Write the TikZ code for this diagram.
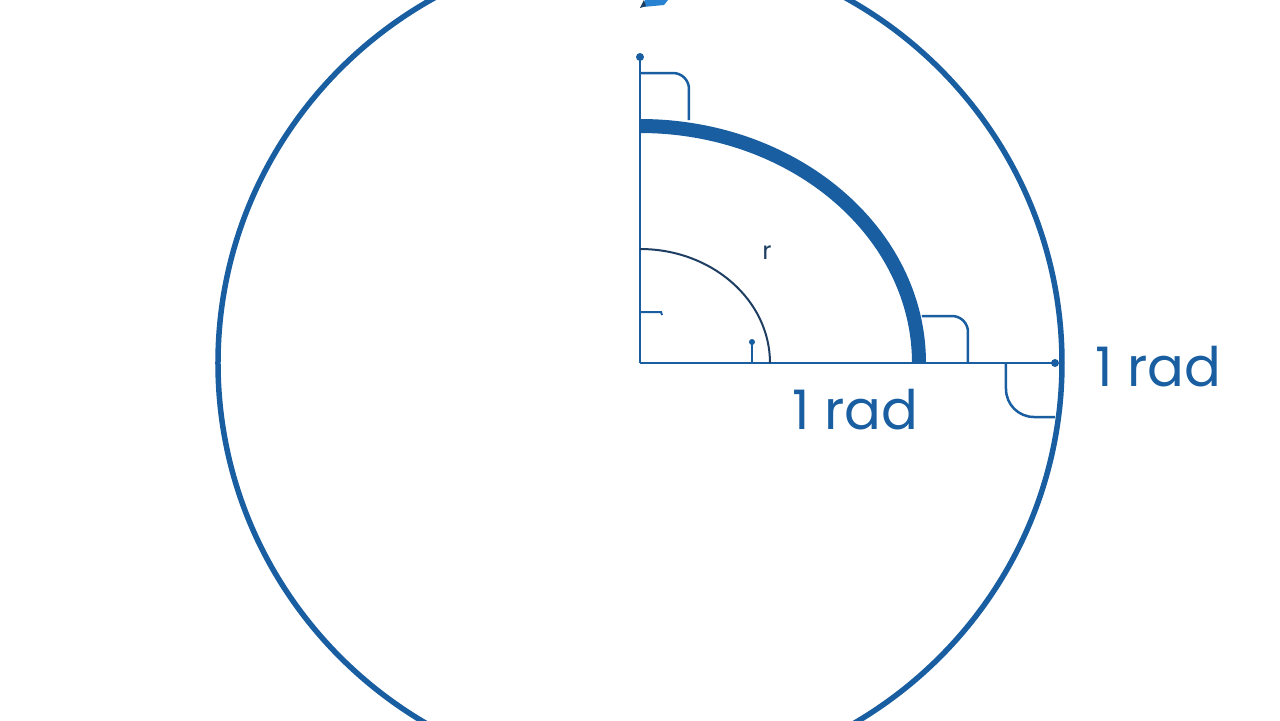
\documentclass[tikz,border=0pt]{standalone}
\usepackage{fontspec}
\setmainfont{Poppins}
\usetikzlibrary{positioning}
\definecolor{radblue}{RGB}{24,94,160}
\definecolor{radnavy}{RGB}{30,62,98}
\definecolor{radsky}{RGB}{40,130,210}

\begin{document}
\begin{tikzpicture}[
    x=0.1mm,y=0.1mm,
    axisline/.style={
      draw=radblue,line width=0.2mm
    },
    bracket/.style={
      draw=radblue,line width=0.25mm,rounded corners=1.6mm
    },
    enddot/.style={
      fill=radblue
    },
    radlabel/.style={
      text=radblue,font=\fontsize{15.5}{18}\selectfont,inner sep=0pt
    }]

      \useasboundingbox (-640,-357) rectangle (640,363);

      \coordinate (O) at (0,0);
      \coordinate (top) at (0,306);
      \coordinate (rim) at (415,0);

      \draw[radblue,line width=0.55mm] (O) ellipse[x radius=422,y radius=418];

      \draw[axisline] (O) -- (top);
      \draw[axisline] (O) -- (rim);
      \fill[enddot] (top) circle[radius=4];
      \fill[enddot] (rim) circle[radius=4];

      \draw[radblue,line width=1.4mm] (0,237) arc[start angle=90,end angle=0,x radius=279,y radius=237];
      \draw[radnavy,line width=0.2mm] (0,114) arc[start angle=90,end angle=0,x radius=130,y radius=114];

      \draw[bracket] (0,290) -- (49,290) -- (49,243);
      \draw[bracket] (282,47) -- (328,47) -- (328,0);
      \draw[bracket,rounded corners=2.8mm] (366,0) -- (366,-54) -- (415,-54);

      \draw[axisline] (0,51) -- (21,51) -- (22,48);
      \draw[axisline] (112,0) -- (112,20);
      \fill[enddot] (112,21) circle[radius=3];
      \node[text=radnavy,font=\fontsize{7}{8}\selectfont,inner sep=0pt] (r) at (127,110) {r};

      \fill[radsky] (3,356) -- (5,363) -- (28,363) -- (24,358) -- cycle;
      \fill[radnavy] (0,355) -- (6,357) -- (4,363) -- cycle;

      \node[radlabel] (arclabel) at (215,-47) {1 rad};
      \node[radlabel] (rimlabel) at (518,-4) {1 rad};
  \end{tikzpicture}
\end{document}
